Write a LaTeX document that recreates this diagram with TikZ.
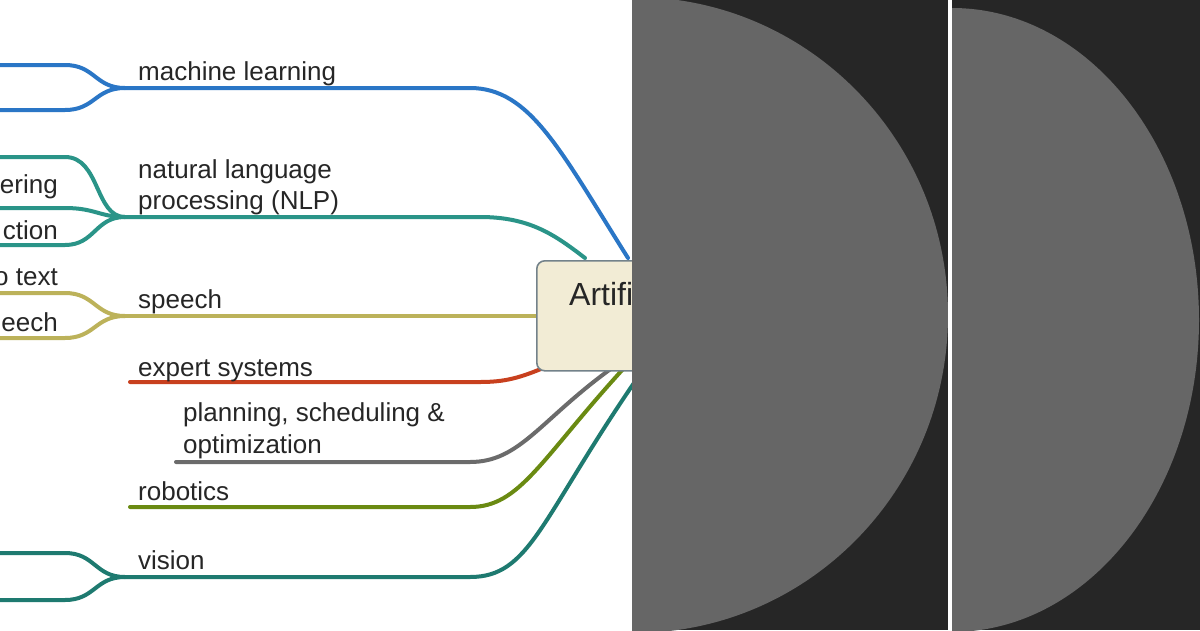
\documentclass[tikz,border=0pt]{standalone}
\usepackage{fontspec}
\setmainfont{Liberation Sans}
\begin{document}
\begin{tikzpicture}[x=1pt,y=-1pt,
  br/.style={line width=4pt,line cap=round},
  lbl/.style={anchor=base west,inner sep=0pt,font=\fontsize{26}{31}\selectfont,text=black!85},
  lblr/.style={anchor=base east,inner sep=0pt,font=\fontsize{26}{31}\selectfont,text=black!85}]
\useasboundingbox (0,0) rectangle (1200,630);
\fill[white] (0,0) rectangle (1200,630);
\definecolor{cml}{HTML}{2A76C6}
\definecolor{cnlp}{HTML}{2A9488}
\definecolor{csp}{HTML}{BCB25A}
\definecolor{cex}{HTML}{C8401E}
\definecolor{cpl}{HTML}{6B6B6B}
\definecolor{crb}{HTML}{6A8A12}
\definecolor{cvi}{HTML}{1E7A70}
% coordinates
\coordinate (mlA) at (628,258); \coordinate (mlB) at (470,88); \coordinate (mlC) at (125,88);
\coordinate (mlL1) at (0,65); \coordinate (mlL2) at (0,110);
\coordinate (nA) at (585,258); \coordinate (nB) at (480,217); \coordinate (nC) at (125,217);
\coordinate (nL1) at (0,157); \coordinate (nL2) at (0,208); \coordinate (nL3) at (0,245);
\coordinate (sA) at (540,316); \coordinate (sC) at (125,316);
\coordinate (sL1) at (0,293); \coordinate (sL2) at (0,338);
\coordinate (eA) at (548,366); \coordinate (eB) at (480,382); \coordinate (eC) at (130,382);
\coordinate (pA) at (612,368); \coordinate (pB) at (470,462); \coordinate (pC) at (176,462);
\coordinate (rA) at (624,368); \coordinate (rB) at (470,507); \coordinate (rC) at (130,507);
\coordinate (vA) at (636,380); \coordinate (vB) at (470,577); \coordinate (vC) at (125,577);
\coordinate (vL1) at (0,553); \coordinate (vL2) at (0,600);
% machine learning
\draw[br,cml] (mlA) .. controls (560,150) and (530,88) .. (mlB) -- (mlC);
\draw[br,cml] (mlC) .. controls (95,88) and (95,65) .. (65,65) -- (mlL1);
\draw[br,cml] (mlC) .. controls (95,88) and (95,110) .. (65,110) -- (mlL2);
% nlp
\draw[br,cnlp] (nA) .. controls (555,235) and (530,217) .. (nB) -- (nC);
\draw[br,cnlp] (nC) .. controls (95,217) and (100,157) .. (65,157) -- (nL1);
\draw[br,cnlp] (nC) .. controls (100,217) and (95,208) .. (65,208) -- (nL2);
\draw[br,cnlp] (nC) .. controls (95,217) and (95,245) .. (65,245) -- (nL3);
% speech
\draw[br,csp] (sA) -- (sC);
\draw[br,csp] (sC) .. controls (95,316) and (95,293) .. (65,293) -- (sL1);
\draw[br,csp] (sC) .. controls (95,316) and (95,338) .. (65,338) -- (sL2);
% expert
\draw[br,cex] (eA) .. controls (520,378) and (505,382) .. (eB) -- (eC);
% planning
\draw[br,cpl] (pA) .. controls (540,420) and (520,462) .. (pB) -- (pC);
% robotics
\draw[br,crb] (rA) .. controls (540,460) and (520,507) .. (rB) -- (rC);
% vision
\draw[br,cvi] (vA) .. controls (540,520) and (530,577) .. (vB) -- (vC);
\draw[br,cvi] (vC) .. controls (95,577) and (95,553) .. (65,553) -- (vL1);
\draw[br,cvi] (vC) .. controls (95,577) and (95,600) .. (65,600) -- (vL2);
% central box
\node[draw=black!55!cyan!40!gray,line width=1.6pt,fill={rgb,255:red,242;green,236;blue,213},rounded corners=8pt,
  minimum width=200pt,minimum height=110pt,anchor=north west,inner sep=0pt] (box) at (536,260) {};
\node[anchor=base west,inner sep=0pt,font=\fontsize{32}{37}\selectfont,text=black!85] (boxt) at (569,305) {Artificial Intelligence};
% labels
\node[lbl] (tml) at (138,80) {machine learning};
\node[lbl] (tn1) at (138,178) {natural language};
\node[lbl] (tn2) at (138,209) {processing (NLP)};
\node[lbl] (tsp) at (138,308) {speech};
\node[lbl] (tex) at (138,376) {expert systems};
\node[lbl] (tp1) at (183,421) {planning, scheduling \&};
\node[lbl] (tp2) at (183,453) {optimization};
\node[lbl] (trb) at (138,500) {robotics};
\node[lbl] (tvi) at (138,569) {vision};
\node[lblr] (c1) at (58,193) {ering};
\node[lblr] (c2) at (58,239) {ction};
\node[lblr] (c3) at (58,285) {o text};
\node[lblr] (c4) at (58,331) {eech};
% right panels
\fill[black!85] (632,0) rectangle (948,630);
\begin{scope}
\clip (632,0) rectangle (948,630);
\fill[black!60] (634,315) ellipse [x radius=314pt,y radius=318pt];
\end{scope}
\fill[white] (948,0) rectangle (952,630);
\fill[black!85] (952,0) rectangle (1200,630);
\begin{scope}
\clip (952,0) rectangle (1200,630);
\fill[black!60] (952,320) ellipse [x radius=247pt,y radius=312pt];
\end{scope}
\end{tikzpicture}
\end{document}
